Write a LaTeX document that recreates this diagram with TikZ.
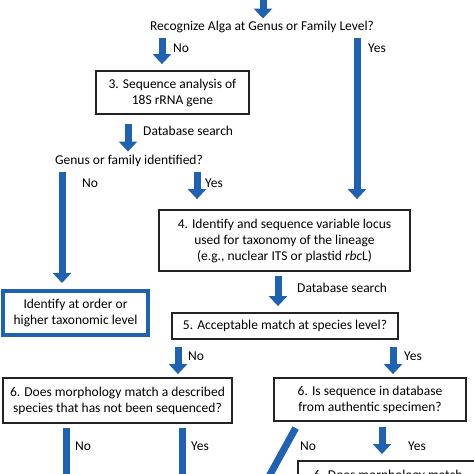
\documentclass[tikz,border=0pt]{standalone}
\usepackage{fontspec}
\setmainfont{Carlito}
\usetikzlibrary{arrows.meta}
\definecolor{flowblue}{RGB}{31,98,180}
\definecolor{boxline}{RGB}{35,35,35}
\pgfkeys{tikz/stepbox/.style={draw=boxline,line width=1.8pt,align=center,inner sep=0pt}}
\pgfkeys{tikz/question/.style={align=center,inner sep=2pt,text height=9.5pt,text depth=3pt}}
\pgfkeys{tikz/lbl/.style={anchor=west,inner sep=0pt,text height=9pt,text depth=0pt}}
\pgfkeys{tikz/shaft/.style={draw=flowblue,line width=7pt,shorten <=4pt}}
\pgfkeys{tikz/flow/.style={shaft,-{Triangle[width=18pt,length=10pt]},shorten >=6pt}}

\begin{document}
\begin{tikzpicture}[x=1pt,y=-1pt,font=\fontsize{13.5}{16}\selectfont]
\useasboundingbox (0,0) rectangle (474,474);
\clip (0,0) rectangle (474,474);

% questions and steps
\node[question] (recog) at (262,27) {Recognize Alga at Genus or Family Level?};
\node[stepbox,minimum width=153pt,minimum height=43pt] (seq18s) at (172.5,92.5) {3. Sequence analysis of\\18S rRNA gene};
\node[question] (genus) at (129,161) {Genus or family identified?};
\node[stepbox,minimum width=251pt,minimum height=61pt] (locus) at (284.5,240.5) {4. Identify and sequence variable locus\\used for taxonomy of the lineage\\(e.g., nuclear ITS or plastid \textit{rbc}L)};
\node[stepbox,draw=flowblue,line width=4pt,minimum width=145pt,minimum height=44pt] (order) at (75.5,313) {Identify at order or\\higher taxonomic level};
\node[stepbox,minimum width=226pt,minimum height=26pt] (match) at (285,326) {5. Acceptable match at species level?};
\node[stepbox,minimum width=229pt,minimum height=45pt] (morphL) at (117.5,400.5) {6. Does morphology match a described\\species that has not been sequenced?};
\node[stepbox,minimum width=192pt,minimum height=43pt] (authent) at (370,399.5) {6. Is sequence in database\\from authentic specimen?};
\node[stepbox,anchor=north,minimum width=180pt,inner ysep=9pt] (morphR) at (388,460) {6. Does morphology match};

% free ends
\coordinate (top) at (263,-5);
\coordinate (bottom) at (0,500);
\coordinate (farL) at (256,500);

% arrows
\draw[flow,shorten <=0pt,shorten >=0pt] (top) -- (top |- recog.north);
\draw[flow,shorten <=3pt] ([xshift=-10.5pt]seq18s.north |- recog.south) -- ([xshift=-10.5pt]seq18s.north);
\draw[flow,shorten <=3pt,shorten >=10pt] ([xshift=72.5pt]locus.north |- recog.south) -- ([xshift=72.5pt]locus.north);
\draw[flow,shorten <=9pt,shorten >=1pt] ([xshift=-44.5pt]seq18s.south) -- ([xshift=-44.5pt]seq18s.south |- genus.north);
\draw[flow,shorten <=3pt] ([xshift=-13.5pt]order.north |- genus.south) -- ([xshift=-13.5pt]order.north);
\draw[flow,shorten <=3pt,shorten >=10pt] ([xshift=-87.5pt]locus.north |- genus.south) -- ([xshift=-87.5pt]locus.north);
\draw[flow] ([xshift=-6.5pt]locus.south) -- ([xshift=-6.5pt]locus.south |- match.north);
\draw[flow,shorten <=7pt,shorten >=3pt] ([xshift=-107pt]match.south) -- ([xshift=-107pt]match.south |- morphL.north);
\draw[flow,shorten <=7pt,shorten >=3pt] ([xshift=108pt]match.south) -- ([xshift=108pt]match.south |- authent.north);
\draw[shaft] ([xshift=-51.5pt]morphL.south) -- ([xshift=-51.5pt]morphL.south |- bottom);
\draw[shaft] ([xshift=64.5pt]morphL.south) -- ([xshift=64.5pt]morphL.south |- bottom);
\draw[shaft,shorten <=7pt] ([xshift=-71pt]authent.south) -- (farL);
\draw[flow,shorten <=5pt] ([xshift=12pt]authent.south) -- ([xshift=12pt]authent.south |- morphR.north);

% yes / no labels
\node[lbl] (no1) at (173,48) {No};
\node[lbl] (yes1) at (368,48) {Yes};
\node[lbl] (db1) at (143,131) {Database search};
\node[lbl] (no2) at (82,183) {No};
\node[lbl] (yes2) at (205,183) {Yes};
\node[lbl] (db2) at (297,288) {Database search};
\node[lbl] (no3) at (188,356) {No};
\node[lbl] (yes3) at (404,356) {Yes};
\node[lbl] (no4) at (75,446) {No};
\node[lbl] (yes4) at (191,446) {Yes};
\node[lbl] (no5) at (300,446) {No};
\node[lbl] (yes5) at (408,446) {Yes};

\end{tikzpicture}
\end{document}
